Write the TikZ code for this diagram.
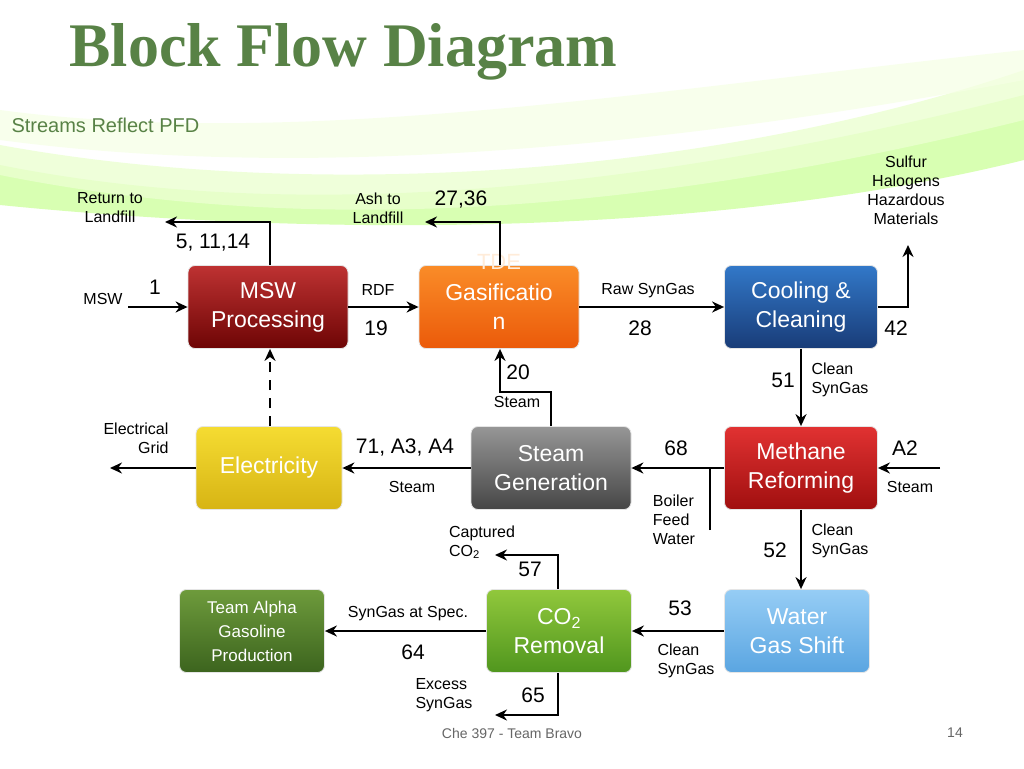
\documentclass[tikz,border=0pt]{standalone}
\usepackage{fontspec}
\setmainfont{Liberation Sans}
\newfontfamily\titlefont{Liberation Serif}
\usetikzlibrary{arrows.meta}
\definecolor{ttl}{RGB}{88,130,70}
\definecolor{mswA}{RGB}{190,50,50}\definecolor{mswB}{RGB}{110,5,5}
\definecolor{tdeA}{RGB}{250,140,40}\definecolor{tdeB}{RGB}{235,90,10}
\definecolor{coolA}{RGB}{50,120,200}\definecolor{coolB}{RGB}{25,60,120}
\definecolor{metA}{RGB}{225,50,50}\definecolor{metB}{RGB}{160,15,15}
\definecolor{stA}{RGB}{150,150,150}\definecolor{stB}{RGB}{70,70,70}
\definecolor{elA}{RGB}{245,220,50}\definecolor{elB}{RGB}{215,180,20}
\definecolor{wgA}{RGB}{150,205,245}\definecolor{wgB}{RGB}{90,165,225}
\definecolor{coA}{RGB}{145,200,60}\definecolor{coB}{RGB}{80,150,30}
\definecolor{tmA}{RGB}{110,155,60}\definecolor{tmB}{RGB}{60,100,30}
\tikzset{
 blk/.style={rounded corners=7pt, minimum width=#1, minimum height=83pt, align=center, text=white, font=\fontsize{23}{29}\selectfont, draw=white!80!gray, line width=0.8pt},
 blk/.default=160pt,
 lbl/.style={align=center, font=\fontsize{16}{19}\selectfont, inner sep=1pt},
 num/.style={font=\fontsize{21}{23}\selectfont, inner sep=1pt},
 flow/.style={line width=2.6pt, -{Stealth[length=12pt,width=11pt]}},
 seg/.style={line width=2.6pt},
}
\begin{document}
\begin{tikzpicture}[x=1pt,y=-1pt]
\useasboundingbox (0,0) rectangle (1024,768);
\fill[white] (0,0) rectangle (1024,768);
% green wave
\fill[green!35!lime!30!white] (0,165) .. controls (300,225) and (650,190) .. (1024,95) -- (1024,160) .. controls (700,240) and (300,235) .. (0,205) -- cycle;
\fill[green!25!lime!18!white, opacity=0.8] (0,175) .. controls (350,245) and (700,200) .. (1024,120) -- (1024,70) .. controls (700,180) and (300,200) .. (0,145) -- cycle;
\fill[green!15!lime!10!white, opacity=0.7] (0,110) .. controls (300,150) and (650,90) .. (1024,50) -- (1024,80) .. controls (650,150) and (300,180) .. (0,140) -- cycle;
\node[anchor=west, text=ttl, font=\titlefont\bfseries\fontsize{62}{66}\selectfont] (title) at (66,52) {Block Flow Diagram};
\node[anchor=west, text=ttl, font=\fontsize{20}{22}\selectfont] (sub) at (8,125) {Streams Reflect PFD};
\node[font=\fontsize{14}{16}\selectfont, text=gray!80!black] (foot) at (512,733) {Che 397 - Team Bravo};
\node[font=\fontsize{14}{16}\selectfont, text=gray!80!black] (pg) at (955,733) {14};
% blocks
\node[blk, top color=mswA, bottom color=mswB] (msw) at (268,307) {MSW\\Processing};
\node[blk, top color=tdeA, bottom color=tdeB] (tde) at (499,307) {Gasificatio\\n};
\node[text=white!85!orange, font=\fontsize{22}{24}\selectfont] (tdet) at (499,262) {TDE};
\node[blk=153pt, top color=coolA, bottom color=coolB] (cool) at (801,307) {Cooling \&\\Cleaning};
\node[blk=153pt, top color=metA, bottom color=metB] (meth) at (801,468) {Methane\\Reforming};
\node[blk, top color=stA, bottom color=stB] (steam) at (551,468) {Steam\\Generation};
\node[blk=146pt, top color=elA, bottom color=elB] (elec) at (269,468) {Electricity};
\node[blk=145pt, top color=wgA, bottom color=wgB] (wgs) at (797,631) {Water\\Gas Shift};
\node[blk=145pt, top color=coA, bottom color=coB] (co2) at (559,631) {CO\textsubscript{2}\\Removal};
\node[blk=145pt, top color=tmA, bottom color=tmB, font=\fontsize{17}{24}\selectfont] (team) at (252,631) {Team Alpha\\Gasoline\\Production};
% coordinates
\coordinate (mswin) at (128,307);
\coordinate (r1) at (270,222); \coordinate (r2) at (165,222);
\coordinate (a1) at (500,222); \coordinate (a2) at (425,222);
\coordinate (s1) at (908,307); \coordinate (s2) at (908,245);
\coordinate (a2in) at (940,468);
\coordinate (bfw) at (710,530); \coordinate (bfwt) at (710,468);
\coordinate (st1) at (551,392); \coordinate (st2) at (500,392);
\coordinate (grid) at (110,468);
\coordinate (c1) at (558,555); \coordinate (c2) at (495,555);
\coordinate (e1) at (558,715); \coordinate (e2) at (495,715);
% flows
\draw[flow] (mswin) -- (msw.west);
\draw[flow] (msw.north -| r1) -- (r1) -- (r2);
\draw[flow] (msw) -- (tde);
\draw[flow] (tde.north -| a1) -- (a1) -- (a2);
\draw[flow] (tde) -- (cool);
\draw[flow] (cool.east) -- (s1) -- (s2);
\draw[flow] (cool) -- (meth);
\draw[flow] (a2in) -- (meth.east);
\draw[flow] (meth) -- (steam);
\draw[seg] (bfw) -- (bfwt);
\draw[flow] (steam.north -| st1) -- (st1) -- (st2) -- (tde.south -| st2);
\draw[flow] (steam) -- (elec);
\draw[flow, dash pattern=on 10pt off 8pt] (elec.north -| r1) -- (msw.south -| r1);
\draw[flow] (elec.west) -- (grid);
\draw[flow] (meth) -- (wgs.north -| meth);
\draw[flow] (wgs) -- (co2);
\draw[flow] (co2.north -| c1) -- (c1) -- (c2);
\draw[flow] (co2) -- (team);
\draw[flow] (co2.south -| e1) -- (e1) -- (e2);
% labels
\node[lbl] (l1) at (103,299) {MSW};
\node[num] (n1) at (155,287) {1};
\node[lbl] (l2) at (110,208) {Return to\\Landfill};
\node[num] (n2) at (213,243) {5, 11,14};
\node[lbl] (l3) at (378,290) {RDF};
\node[num] (n3) at (376,328) {19};
\node[lbl] (l4) at (378,208) {Ash to\\Landfill};
\node[num] (n4) at (461,200) {27,36};
\node[lbl] (l5) at (648,291) {Raw SynGas};
\node[num] (n5) at (640,328) {28};
\node[lbl] (l6) at (906,190) {Sulfur\\Halogens\\Hazardous\\Materials};
\node[num] (n6) at (896,328) {42};
\node[num] (n7) at (783,380) {51};
\node[lbl, align=left] (l7) at (840,380) {Clean\\SynGas};
\node[num] (n8) at (905,448) {A2};
\node[lbl] (l8) at (910,487) {Steam};
\node[num] (n9) at (676,448) {68};
\node[lbl, align=left] (l9) at (674,520) {Boiler\\Feed\\Water};
\node[num] (n10) at (518,372) {20};
\node[lbl] (l10) at (517,402) {Steam};
\node[num] (n11) at (405,448) {71, A3, A4};
\node[lbl] (l11) at (412,487) {Steam};
\node[lbl, align=right] (l12) at (136,438) {Electrical\\Grid};
\node[num] (n12) at (775,550) {52};
\node[lbl, align=left] (l13) at (840,541) {Clean\\SynGas};
\node[num] (n13) at (680,608) {53};
\node[lbl, align=left] (l14) at (686,661) {Clean\\SynGas};
\node[lbl, align=left] (l15) at (482,542) {Captured\\CO\textsubscript{2}};
\node[num] (n14) at (530,569) {57};
\node[lbl] (l16) at (408,614) {SynGas at Spec.};
\node[num] (n15) at (413,652) {64};
\node[lbl, align=left] (l17) at (444,695) {Excess\\SynGas};
\node[num] (n16) at (533,695) {65};
\end{tikzpicture}
\end{document}
